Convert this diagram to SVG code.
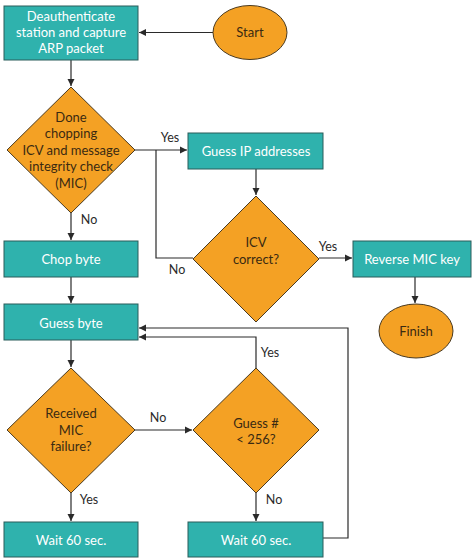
<svg xmlns="http://www.w3.org/2000/svg" width="474" height="560" viewBox="0 0 474 560">
<style>
.box{fill:#2fb2ad;stroke:#2b5c5a;stroke-width:1}
.dec{fill:#f4a124;stroke:#4a3a20;stroke-width:1}
.wt{fill:#ffffff;font-family:Lato,"Open Sans",sans-serif;font-size:13px;text-anchor:middle}
.dt{fill:#3a2a12;font-family:Lato,"Open Sans",sans-serif;font-size:13px;text-anchor:middle}
.lbl{fill:#2a2a2a;font-family:Lato,"Open Sans",sans-serif;font-size:12.5px;text-anchor:middle}
.ln{fill:none;stroke:#2a2a2a;stroke-width:1.2}
</style>
<defs>
<marker id="ah" markerWidth="8" markerHeight="8" refX="7" refY="4" orient="auto" markerUnits="userSpaceOnUse">
<path d="M0,0.5 L7,4 L0,7.5 Z" fill="#2a2a2a"/>
</marker>
</defs>
<rect width="474" height="560" fill="#ffffff"/>
<g id="connectors">
<line class="ln" x1="213" y1="32.5" x2="139" y2="32.5" marker-end="url(#ah)"/>
<line class="ln" x1="71" y1="60" x2="71" y2="86" marker-end="url(#ah)"/>
<line class="ln" x1="135" y1="150" x2="187" y2="150" marker-end="url(#ah)"/>
<polyline class="ln" points="193,258 156,258 156,150"/>
<line class="ln" x1="256" y1="169" x2="256" y2="195" marker-end="url(#ah)"/>
<line class="ln" x1="319" y1="258" x2="352" y2="258" marker-end="url(#ah)"/>
<line class="ln" x1="71" y1="213" x2="71" y2="240" marker-end="url(#ah)"/>
<line class="ln" x1="71" y1="277" x2="71" y2="303" marker-end="url(#ah)"/>
<line class="ln" x1="415" y1="277" x2="415" y2="303" marker-end="url(#ah)"/>
<line class="ln" x1="71" y1="340" x2="71" y2="367" marker-end="url(#ah)"/>
<line class="ln" x1="135" y1="430" x2="192" y2="430" marker-end="url(#ah)"/>
<line class="ln" x1="71" y1="493" x2="71" y2="521" marker-end="url(#ah)"/>
<line class="ln" x1="256" y1="493" x2="256" y2="521" marker-end="url(#ah)"/>
<polyline class="ln" points="256,368 256,337 139,337" marker-end="url(#ah)"/>
<polyline class="ln" points="323,538 348,538 348,328 139,328" marker-end="url(#ah)"/>
<text class="lbl" x="170" y="142">Yes</text>
<text class="lbl" x="89" y="224">No</text>
<text class="lbl" x="177" y="274">No</text>
<text class="lbl" x="328" y="251">Yes</text>
<text class="lbl" x="270" y="357">Yes</text>
<text class="lbl" x="158" y="422">No</text>
<text class="lbl" x="89" y="504">Yes</text>
<text class="lbl" x="274" y="504">No</text>
</g>
<g id="deauth">
<rect class="box" x="4" y="6" width="134" height="54"/>
<text class="wt" x="71" y="21">Deauthenticate</text>
<text class="wt" x="71" y="37">station and capture</text>
<text class="wt" x="71" y="53">ARP packet</text>
</g>
<g id="start">
<ellipse class="dec" cx="250" cy="32.5" rx="37" ry="27"/>
<text class="dt" x="250" y="37">Start</text>
</g>
<g id="done-chopping">
<polygon class="dec" points="71,87 135,150 71,213 7,150"/>
<text class="dt" x="71" y="122">Done</text>
<text class="dt" x="71" y="138">chopping</text>
<text class="dt" x="71" y="155">ICV and message</text>
<text class="dt" x="71" y="171">integrity check</text>
<text class="dt" x="71" y="188">(MIC)</text>
</g>
<g id="guess-ip">
<rect class="box" x="188" y="133" width="135" height="36"/>
<text class="wt" x="256" y="156">Guess IP addresses</text>
</g>
<g id="icv-correct">
<polygon class="dec" points="256,196 319,259 256,322 193,259"/>
<text class="dt" x="256" y="247">ICV</text>
<text class="dt" x="256" y="264">correct?</text>
</g>
<g id="reverse-mic">
<rect class="box" x="353" y="241" width="118" height="36"/>
<text class="wt" x="412" y="264">Reverse MIC key</text>
</g>
<g id="finish">
<ellipse class="dec" cx="416" cy="331" rx="37" ry="27"/>
<text class="dt" x="416" y="336">Finish</text>
</g>
<g id="chop-byte">
<rect class="box" x="4" y="241" width="134" height="36"/>
<text class="wt" x="71" y="264">Chop byte</text>
</g>
<g id="guess-byte">
<rect class="box" x="4" y="304" width="134" height="36"/>
<text class="wt" x="71" y="328">Guess byte</text>
</g>
<g id="received-mic">
<polygon class="dec" points="71,368 135,430 71,493 7,430"/>
<text class="dt" x="71" y="418">Received</text>
<text class="dt" x="71" y="435">MIC</text>
<text class="dt" x="71" y="451">failure?</text>
</g>
<g id="guess-count">
<polygon class="dec" points="256,368 319,430 256,493 193,430"/>
<text class="dt" x="256" y="428">Guess #</text>
<text class="dt" x="256" y="444">&lt; 256?</text>
</g>
<g id="wait1">
<rect class="box" x="4" y="522" width="134" height="35"/>
<text class="wt" x="71" y="545">Wait 60 sec.</text>
</g>
<g id="wait2">
<rect class="box" x="188" y="522" width="135" height="35"/>
<text class="wt" x="256" y="545">Wait 60 sec.</text>
</g>
</svg>
